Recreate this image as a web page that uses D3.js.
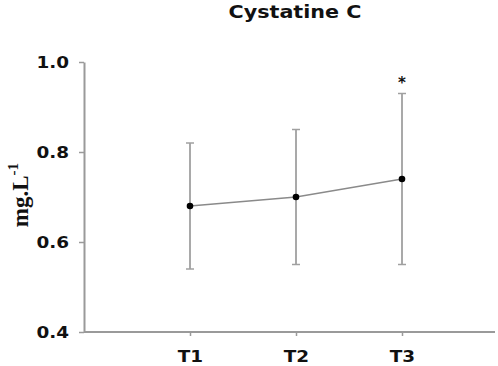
<!DOCTYPE html>
<html>
<head>
<meta charset="utf-8">
<script src="https://cdn.jsdelivr.net/npm/d3@7"></script>
<style>
  body { margin: 0; background: #fff; }
  svg { display: block; }
</style>
</head>
<body>
<svg id="chart" width="498" height="366"></svg>
<script>
// data
const times = ["T1", "T2", "T3"];
const means = [0.68, 0.70, 0.74];
const upper = [0.82, 0.85, 0.93];
const lower = [0.54, 0.55, 0.55];
const marks = ["", "", "*"];
const yTicks = [0.4, 0.6, 0.8, 1.0];

// layout
const plotLeft = 84, plotRight = 495, plotTop = 62, plotBottom = 332;
const stretch = "scale(1.15,1)";

const svg = d3.select("#chart");
const x = d3.scalePoint().domain(times).range([190, 402]);
const y = d3.scaleLinear().domain([0.4, 1.0]).range([plotBottom, plotTop]);

// title
svg.append("text")
    .attr("transform", "translate(295,18) " + stretch)
    .attr("text-anchor", "middle")
    .style("font", "bold 18px 'DejaVu Sans'")
    .attr("fill", "#111")
    .text("Cystatine C");

// y axis
let yAxis = svg.append("g")
    .attr("transform", "translate(" + plotLeft + ",0)")
    .call(d3.axisLeft(y).tickValues(yTicks).tickFormat(d3.format(".1f")).tickSize(5).tickSizeOuter(0));
yAxis.select(".domain").attr("stroke", "#9a9a9a").attr("stroke-width", 2);
yAxis.selectAll(".tick line").attr("stroke", "#9a9a9a").attr("stroke-width", 1.5);
yAxis.selectAll(".tick text")
    .attr("x", -15 / 1.15)
    .attr("transform", stretch)
    .style("font", "bold 16px 'DejaVu Sans'")
    .attr("fill", "#111");

// x axis
let xAxis = svg.append("g")
    .attr("transform", "translate(0," + plotBottom + ")")
    .call(d3.axisBottom(x).tickSize(4).tickSizeOuter(0));
xAxis.select(".domain").remove();
xAxis.append("line")
    .attr("x1", plotLeft).attr("x2", plotRight)
    .attr("stroke", "#9a9a9a").attr("stroke-width", 2);
xAxis.selectAll(".tick line").attr("stroke", "#9a9a9a").attr("stroke-width", 1.5);
xAxis.selectAll(".tick text")
    .attr("y", 30)
    .attr("dy", null)
    .attr("transform", stretch)
    .style("font", "bold 16px 'DejaVu Sans'")
    .attr("fill", "#111");

// y label
let ylab = svg.append("text")
    .attr("transform", "translate(28,195) rotate(-90)")
    .attr("text-anchor", "middle")
    .style("font", "bold 23px 'Liberation Serif'")
    .attr("fill", "#111");
ylab.append("tspan").text("mg.L");
ylab.append("tspan").attr("dy", -10).style("font-size", "15px").text("-1");

// error bars
let bars = svg.append("g").selectAll("g")
    .data(times)
    .enter()
    .append("g");
bars.append("line")
    .attr("x1", d => x(d)).attr("x2", d => x(d))
    .attr("y1", (d, i) => y(upper[i])).attr("y2", (d, i) => y(lower[i]))
    .attr("stroke", "#a0a0a0").attr("stroke-width", 1.8);
bars.append("line")
    .attr("x1", d => x(d) - 4).attr("x2", d => x(d) + 4)
    .attr("y1", (d, i) => y(upper[i])).attr("y2", (d, i) => y(upper[i]))
    .attr("stroke", "#a0a0a0").attr("stroke-width", 1.5);
bars.append("line")
    .attr("x1", d => x(d) - 4).attr("x2", d => x(d) + 4)
    .attr("y1", (d, i) => y(lower[i])).attr("y2", (d, i) => y(lower[i]))
    .attr("stroke", "#a0a0a0").attr("stroke-width", 1.5);

// mean line
let line = d3.line()
    .x((d, i) => x(times[i]))
    .y(d => y(d));
svg.append("path")
    .datum(means)
    .attr("d", line)
    .attr("fill", "none")
    .attr("stroke", "#8a8a8a")
    .attr("stroke-width", 1.3);

svg.append("g").selectAll("circle")
    .data(means)
    .enter()
    .append("circle")
    .attr("cx", (d, i) => x(times[i]))
    .attr("cy", d => y(d))
    .attr("r", 3.3)
    .attr("fill", "#000");

// significance marks
svg.append("g").selectAll("text")
    .data(marks)
    .enter()
    .append("text")
    .attr("x", (d, i) => x(times[i]))
    .attr("y", (d, i) => y(upper[i]) - 6)
    .attr("text-anchor", "middle")
    .style("font", "bold 15px 'DejaVu Sans'")
    .attr("fill", "#111")
    .text(d => d);
</script>
</body>
</html>
